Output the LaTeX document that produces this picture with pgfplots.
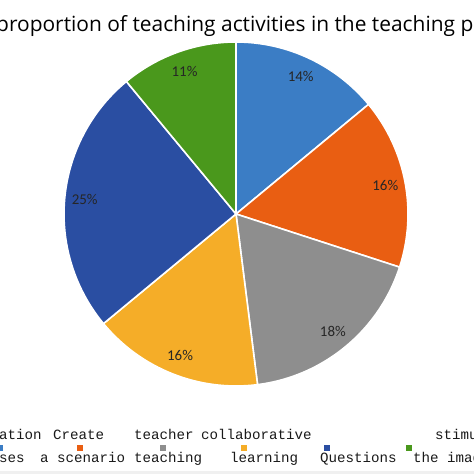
\documentclass[border=0pt]{standalone}
\usepackage{pgfplots}
\usepackage{pgfplotstable}
\pgfplotsset{compat=1.18}
\usetikzlibrary{calc}
\usepackage{fontspec}
\setmainfont{Open Sans}
\newfontfamily\legfont{Liberation Mono}
\newfontfamily\lblfont{Carlito}

\definecolor{cA}{HTML}{3B7DC5}
\definecolor{cB}{HTML}{E95E12}
\definecolor{cC}{HTML}{8E8E8E}
\definecolor{cD}{HTML}{F5AD28}
\definecolor{cE}{HTML}{2A4EA2}
\definecolor{cF}{HTML}{4A981C}

% share of each teaching activity, clockwise from 12 o'clock
\pgfplotstableread{
share color
14 cA
16 cB
18 cC
16 cD
25 cE
11 cF
}\piedata

\begin{document}
\begin{tikzpicture}[x=1bp, y=1bp]
\useasboundingbox (0,0) rectangle (474,474);
\clip (0,0) rectangle (474,474);
\fill[gray!12] (0,0) rectangle (474,2.5);

\begin{axis}[
    hide axis,
    x=1bp, y=1bp,
    xmin=-180, xmax=180,
    ymin=-180, ymax=180,
    anchor=origin,
    at={(236,260)},
    clip=false,
]
\pgfplotstablegetrowsof{\piedata}
\pgfmathtruncatemacro{\nrows}{\pgfplotsretval-1}
\xdef\startang{90}
\foreach \i in {0,...,\nrows}{
    \pgfplotstablegetelem{\i}{share}\of{\piedata}\let\share\pgfplotsretval
    \pgfplotstablegetelem{\i}{color}\of{\piedata}\let\col\pgfplotsretval
    \pgfmathsetmacro{\endang}{\startang-3.6*\share}
    \pgfmathsetmacro{\midang}{(\startang+\endang)/2}
    \edef\temp{%
        \noexpand\fill[fill=\col, draw=white, line width=1.6bp]
            (axis cs:0,0) -- ++(\startang:172bp)
            arc[start angle=\startang, end angle=\endang, radius=172bp] -- cycle;
        \noexpand\node[font=\noexpand\lblfont\noexpand\fontsize{15}{16}\noexpand\selectfont,
            text=black!85] at ($(axis cs:0,0)+(\midang:152bp)$) {\share\noexpand\%};
    }
    \temp
    \xdef\startang{\endang}
}
\end{axis}

% title (cropped in the reference)
\node[anchor=base west, inner sep=0, font=\fontsize{21}{24}\selectfont]
    at (-4,442) {proportion of teaching activities in the teaching process};

% legend (cropped in the reference)
\begin{scope}[every node/.style={anchor=base west, inner sep=0,
        font=\legfont\fontsize{14.2}{15}\selectfont, text=black!90}]
\node at (-1,34) {ation};
\node at (-1,11) {ses};
\node at (53,34) {Create};
\node at (40,11) {a scenario};
\node at (134,34) {teacher};
\node at (134,11) {teaching};
\node at (201,34) {collaborative};
\node at (230,11) {learning};
\node at (320,11) {Questions};
\node at (435,34) {stimulate};
\node at (413,11) {the imagination};
\end{scope}
\fill[cA] (-3,23) rectangle (3,29);
\fill[cB] (77,23) rectangle (83,29);
\fill[cC] (160,23) rectangle (166,29);
\fill[cD] (241,23) rectangle (247,29);
\fill[cE] (324,23) rectangle (330,29);
\fill[cF] (406,23) rectangle (412,29);
\end{tikzpicture}
\end{document}
